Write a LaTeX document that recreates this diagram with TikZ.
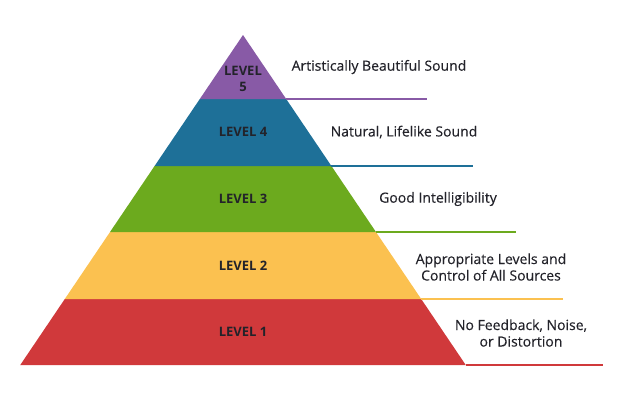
\documentclass[tikz,border=0pt]{standalone}
\usepackage{fontspec}
\setmainfont{Open Sans}
\newfontfamily\labelfont[FakeBold=0.35]{Open Sans}
\definecolor{lvred}{RGB}{208,57,59}
\definecolor{lvyellow}{RGB}{251,193,80}
\definecolor{lvgreen}{RGB}{108,170,30}
\definecolor{lvblue}{RGB}{30,112,152}
\definecolor{lvpurple}{RGB}{136,90,166}
\definecolor{lvtext}{RGB}{35,35,42}
\tikzset{
  level/.style={font=\fontsize{13}{15.5}\selectfont\bfseries, text=lvtext, align=center, inner sep=0pt},
  label/.style={font=\labelfont\fontsize{14}{16.5}\selectfont, text=lvtext, align=center, inner sep=0pt},
  rule/.style={line width=1.6pt}
}
\begin{document}
\begin{tikzpicture}[x=1pt,y=-1pt]
  \useasboundingbox (0,0) rectangle (630,400);
  \foreach \k/\ytop/\ybot/\xend/\col in {1/299/365/603/lvred, 2/232/299/563/lvyellow,
      3/166/232/516/lvgreen, 4/99/166/473/lvblue, 5/35/99/427/lvpurple}{%
    \pgfmathsetmacro\wt{(\ytop-35)*0.675}
    \pgfmathsetmacro\wb{(\ybot-35)*0.675}
    \fill[\col] (243-\wt,\ytop) -- (243+\wt,\ytop) -- (243+\wb,\ybot) -- (243-\wb,\ybot) -- cycle;
    \coordinate (C-\k) at (243+\wb,\ybot);
    \coordinate (E-\k) at (\xend,\ybot);
  }

  \path (C-1) edge[rule, lvred] (E-1);
  \path (C-2) edge[rule, lvyellow] (E-2);
  \path (C-3) edge[rule, lvgreen] (E-3);
  \path (C-4) edge[rule, lvblue] (E-4);
  \path (C-5) edge[rule, lvpurple] (E-5);

  \node[level] (L-5) at (243,79) {LEVEL\\5};
  \node[level] (L-4) at (243,132) {LEVEL 4};
  \node[level] (L-3) at (243,199) {LEVEL 3};
  \node[level] (L-2) at (243,266) {LEVEL 2};
  \node[level] (L-1) at (243,332) {LEVEL 1};

  \node[label] (T-5) at (379,67) {Artistically Beautiful Sound};
  \node[label] (T-4) at (404,132) {Natural, Lifelike Sound};
  \node[label] (T-3) at (438,199) {Good Intelligibility};
  \node[label] (T-2) at (491,267) {Appropriate Levels and\\Control of All Sources};
  \node[label] (T-1) at (521,333) {No Feedback, Noise,\\or Distortion};
\end{tikzpicture}
\end{document}
